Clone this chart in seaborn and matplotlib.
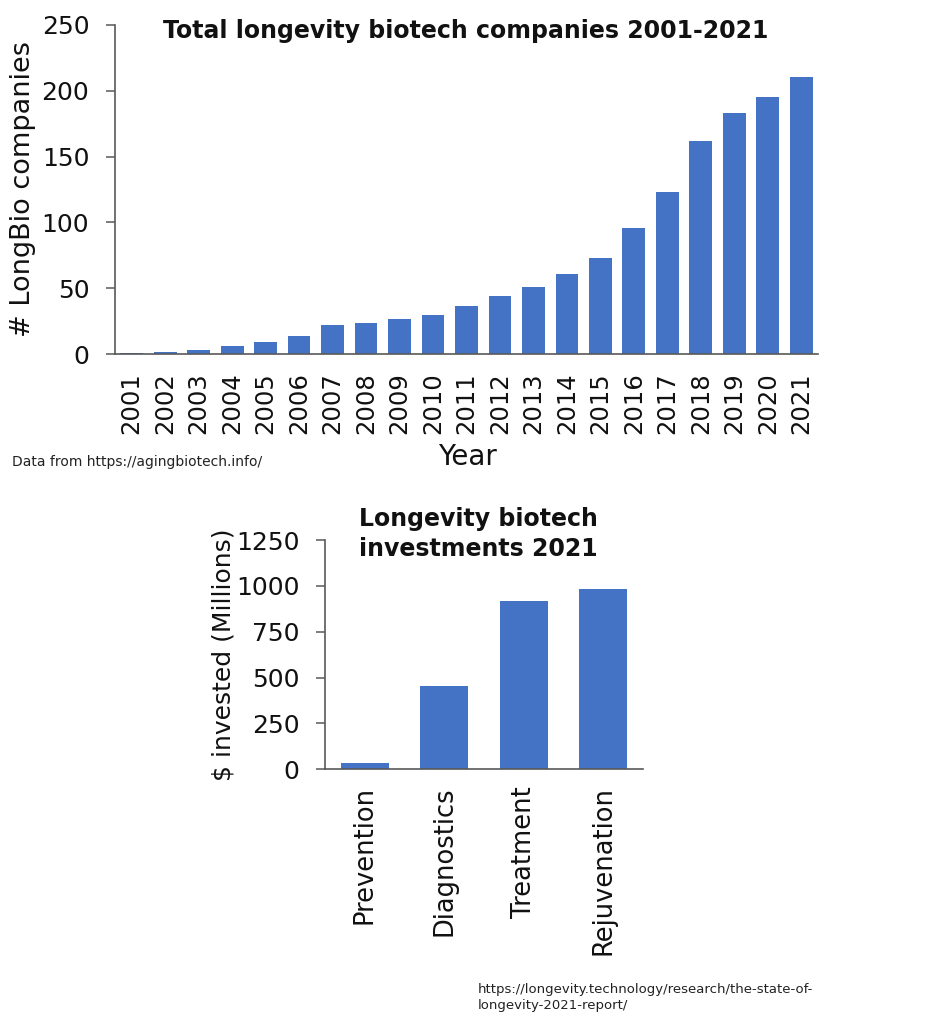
import matplotlib
matplotlib.use("Agg")
import matplotlib.pyplot as plt
import seaborn as sns
import pandas as pd

# Data
years = [str(y) for y in range(2001, 2022)]
companies = [1, 2, 3, 6, 9, 14, 22, 24, 27, 30, 37, 44, 51, 61, 73, 96, 123, 162, 183, 195, 210]

categories = ["Prevention", "Diagnostics", "Treatment", "Rejuvenation"]
invested = [34, 453, 918, 985]

bar_color = "#4472C4"
spine_color = "#595959"
text_color = "#111111"

sns.set_style("ticks")
plt.rcParams["font.family"] = ["DejaVu Sans"]

fig = plt.figure(figsize=(9.34, 10.24), dpi=100)

# Top chart: companies per year
ax1 = fig.add_axes([0.1231, 0.654, 0.7527, 0.3219])
df1 = pd.DataFrame({"Year": years, "Companies": companies})
sns.barplot(data=df1, x="Year", y="Companies", color=bar_color, width=0.68,
            saturation=1, linewidth=0, ax=ax1)
ax1.set_ylim(0, 250)
ax1.set_yticks([0, 50, 100, 150, 200, 250])
ax1.set_xlim(-0.5, len(years) - 0.5)
ax1.set_xlabel("")
ax1.set_ylabel("# LongBio companies", fontsize=19.5, color=text_color, labelpad=4)
ax1.tick_params(axis="y", labelsize=18, length=6.5, width=1.1, color=spine_color,
                labelcolor=text_color, pad=12)
ax1.tick_params(axis="x", labelsize=17.5, length=0, rotation=90, labelcolor=text_color, pad=13)
sns.despine(ax=ax1)
for s in ["left", "bottom"]:
    ax1.spines[s].set_color(spine_color)
    ax1.spines[s].set_linewidth(1.2)

fig.text(466 / 934, 1 - 31 / 1024, "Total longevity biotech companies 2001-2021",
         ha="center", va="center", fontsize=17, fontweight="bold", color=text_color)
fig.text(467 / 934, 1 - 457 / 1024, "Year", ha="center", va="center",
         fontsize=20, color=text_color)
fig.text(12 / 934, 1 - 462 / 1024, "Data from https://agingbiotech.info/",
         ha="left", va="center", fontsize=10, color="#222222")

# Bottom chart: investments by category
ax2 = fig.add_axes([0.348, 0.2487, 0.3405, 0.2239])
df2 = pd.DataFrame({"Category": categories, "Invested": invested})
sns.barplot(data=df2, x="Category", y="Invested", color=bar_color, width=0.6,
            saturation=1, linewidth=0, ax=ax2)
ax2.set_ylim(0, 1250)
ax2.set_yticks([0, 250, 500, 750, 1000, 1250])
ax2.set_xlim(-0.5, len(categories) - 0.5)
ax2.set_xlabel("")
ax2.set_ylabel("$ invested (Millions)", fontsize=18, color=text_color, labelpad=0)
ax2.tick_params(axis="y", labelsize=18, length=6.5, width=1.1, color=spine_color,
                labelcolor=text_color, pad=12)
ax2.tick_params(axis="x", labelsize=18.5, length=0, rotation=90, labelcolor=text_color, pad=12)
sns.despine(ax=ax2)
for s in ["left", "bottom"]:
    ax2.spines[s].set_color(spine_color)
    ax2.spines[s].set_linewidth(1.2)

fig.text(478 / 934, 1 - 534 / 1024, "Longevity biotech\ninvestments 2021",
         ha="center", va="center", fontsize=17, fontweight="bold", linespacing=1.3,
         color=text_color)
fig.text(478 / 934, 1 - 997 / 1024,
         "https://longevity.technology/research/the-state-of-\nlongevity-2021-report/",
         ha="left", va="center", fontsize=9.5, color="#222222", linespacing=1.3)

fig.savefig("out.png", dpi=100)
